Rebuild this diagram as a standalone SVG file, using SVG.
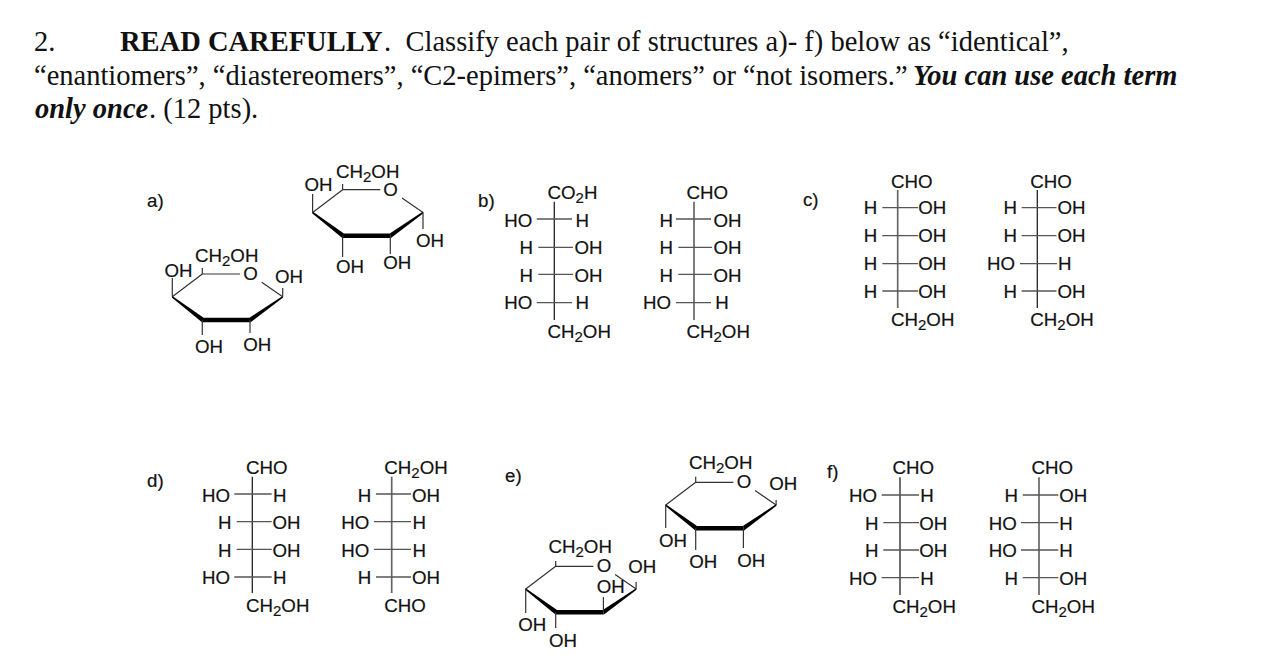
<svg xmlns="http://www.w3.org/2000/svg" width="1288" height="664" viewBox="0 0 1288 664">
<defs><style>
.h{font-family:"Liberation Serif","Times New Roman",serif;font-size:28.500px;fill:#111}
.bi{font-weight:bold;font-style:italic}
.t{font-family:"Liberation Sans",Arial,sans-serif;font-size:18.700px;fill:#111;stroke:#111;stroke-width:.2}
.e{text-anchor:end}
.s{font-size:15px}
.b{stroke:#333;stroke-width:1.200;fill:none}
.r{stroke:#555;stroke-width:1.300;fill:none}
.v{stroke:#222;stroke-width:1.300;fill:none}
.g{stroke:#666;stroke-width:1.700;fill:none}
.k{stroke:#000;stroke-width:4.500;fill:none}
.w{fill:#000;stroke:none}
</style>
<g id="ring"><path class="b" d="M0 0L30 -22.700M30 -22.700H67.700M89.400 -14.400L110.400 0"/><path class="w" d="M0 -0.800L31 20.800L30 25.800L-0.500 0.800Z"/><path class="k" d="M30 23.300H77.700"/><path class="w" d="M110.400 -0.800L77.500 20.800L78 25.800L110.800 0.800Z"/></g>
</defs>
<rect width="1288" height="664" fill="#fff"/>
<g id="question">
<text class="h" x="34" y="51">2.</text>
<text class="h" x="120" y="51" font-weight="bold">READ CAREFULLY</text><text class="h" x="384" y="51">.</text>
<text class="h" x="405.500" y="51">Classify each pair of structures a)- f) below as “identical”,</text>
<text class="h" x="34" y="85">“enantiomers”, “diastereomers”, “C2-epimers”, “anomers” or “not isomers.”</text>
<text class="h bi" x="913" y="85">You can use each term</text>
<text class="h bi" x="35" y="118">only once</text><text class="h" x="149" y="118">. (12 pts).</text>
</g>
<g id="labels">
<text class="t" x="147" y="207">a)</text><text class="t" x="478" y="207">b)</text><text class="t" x="803" y="206">c)</text>
<text class="t" x="147" y="487">d)</text><text class="t" x="505" y="482">e)</text><text class="t" x="827" y="478">f)</text>
</g>
<g id="connectors">
<use href="#ring" x="172.300" y="296.700"/>
<use href="#ring" x="312.600" y="212.400"/>
<use href="#ring" x="665.700" y="505"/>
<use href="#ring" x="525.700" y="589"/>
<path class="b" d="M172.300 296.700V278M202.300 274V268M202.300 320V335M250 320V333M282.700 296.700V288"/>
<path class="b" d="M312.600 212.400V194M342.600 189.700V184M342.600 235.700V257M390.300 235.700V254M423 212.400V229"/>
<path class="b" d="M665.700 505V528M695.700 482.300V476.700M695.700 528.300V550M743.400 528.300V548M776.100 505V500"/>
<path class="b" d="M525.700 589V613M555.700 566.300V561M555.700 612.300V628M603.400 612.300V597M636.100 589V582"/>
<path class="v" d="M554.300 201.700V320"/><path class="r" d="M536.700 219H572M538.300 247.300H573M538.300 274.300H573M536.700 302.700H572"/>
<path class="g" d="M694 201.700V320"/><path class="r" d="M676 219H711M678.300 247.300H712M678.300 274.300H712M676 302.700H711"/>
<path class="g" d="M897.700 190V308"/><path class="r" d="M882.300 207.700H918M882.300 235.700H918M882.300 263.700H918M882.300 291H918"/>
<path class="v" d="M1037.300 190V308"/><path class="r" d="M1021.700 207.700H1056.500M1021.700 235.700H1056.500M1020 263.700H1057M1021.700 291H1056.500"/>
<path class="v" d="M252.300 476.700V593"/><path class="r" d="M234.300 494H271.700M236.700 521.700H271.700M236.700 549.300H271.700M234.300 577H271.700"/>
<path class="g" d="M391.700 476.700V593"/><path class="r" d="M376 494H411M374 521.700H411M374 549.300H411M376 577H411"/>
<path class="v" d="M900 477.300V595"/><path class="r" d="M881.700 495H919M883.300 522.700H919M883.300 550H919M881.700 577.700H919"/>
<path class="g" d="M1039 477.300V595"/><path class="r" d="M1022.700 495H1058.300M1021 522.700H1058.300M1021 550H1058.300M1022.700 577.700H1058.300"/>
</g>
<g id="a-lower">
<text class="t" x="164.500" y="276.700">OH</text><text class="t" x="195" y="261.700">CH<tspan class="s" dy="4">2</tspan><tspan dy="-4">OH</tspan></text><text class="t" x="243.300" y="280">O</text><text class="t" x="275" y="282.700">OH</text><text class="t" x="195" y="353.300">OH</text><text class="t" x="243.300" y="351">OH</text>
</g>
<g id="a-upper">
<text class="t" x="304.500" y="190.700">OH</text><text class="t" x="336" y="178.300">CH<tspan class="s" dy="4">2</tspan><tspan dy="-4">OH</tspan></text><text class="t" x="383.300" y="196">O</text><text class="t" x="416" y="246.700">OH</text><text class="t" x="336" y="273.300">OH</text><text class="t" x="383.300" y="269.300">OH</text>
</g>
<g id="e-upper">
<text class="t" x="689" y="469">CH<tspan class="s" dy="4">2</tspan><tspan dy="-4">OH</tspan></text><text class="t" x="736.700" y="488.300">O</text><text class="t" x="769.300" y="490">OH</text><text class="t" x="659" y="546.700">OH</text><text class="t" x="689.300" y="568.300">OH</text><text class="t" x="737.300" y="566.700">OH</text>
</g>
<g id="e-lower">
<text class="t" x="548.500" y="553.300">CH<tspan class="s" dy="4">2</tspan><tspan dy="-4">OH</tspan></text><text class="t" x="596.700" y="571.700">O</text><text class="t" x="628.300" y="573.300">OH</text><text class="t" x="596.700" y="593.300">OH</text><text class="t" x="518.300" y="630.700">OH</text><text class="t" x="549" y="646.700">OH</text>
</g>
<g id="b-left">
<text class="t" x="547.500" y="199.300">CO<tspan class="s" dy="4">2</tspan><tspan dy="-4">H</tspan></text>
<text class="t e" x="532.300" y="226.700">HO</text><text class="t" x="575.500" y="226.700">H</text>
<text class="t e" x="533" y="254">H</text><text class="t" x="574.500" y="254">OH</text>
<text class="t e" x="533" y="281.700">H</text><text class="t" x="574.500" y="281.700">OH</text>
<text class="t e" x="532.300" y="309.300">HO</text><text class="t" x="575.500" y="309.300">H</text>
<text class="t" x="547.500" y="337.700">CH<tspan class="s" dy="4">2</tspan><tspan dy="-4">OH</tspan></text>
</g>
<g id="b-right">
<text class="t" x="686.500" y="199.300">CHO</text>
<text class="t e" x="673" y="226.700">H</text><text class="t" x="713.500" y="226.700">OH</text>
<text class="t e" x="673" y="254">H</text><text class="t" x="713.500" y="254">OH</text>
<text class="t e" x="673" y="281.700">H</text><text class="t" x="713.500" y="281.700">OH</text>
<text class="t e" x="671" y="309.300">HO</text><text class="t" x="715.300" y="309.300">H</text>
<text class="t" x="686.500" y="337.700">CH<tspan class="s" dy="4">2</tspan><tspan dy="-4">OH</tspan></text>
</g>
<g id="c-left">
<text class="t" x="891" y="187.500">CHO</text>
<text class="t e" x="877.300" y="214.300">H</text><text class="t" x="918.300" y="214.300">OH</text>
<text class="t e" x="877.300" y="242.300">H</text><text class="t" x="918.300" y="242.300">OH</text>
<text class="t e" x="877.300" y="270.300">H</text><text class="t" x="918.300" y="270.300">OH</text>
<text class="t e" x="877.300" y="298">H</text><text class="t" x="918.300" y="298">OH</text>
<text class="t" x="891" y="325.500">CH<tspan class="s" dy="4">2</tspan><tspan dy="-4">OH</tspan></text>
</g>
<g id="c-right">
<text class="t" x="1030.300" y="187.500">CHO</text>
<text class="t e" x="1017" y="214.300">H</text><text class="t" x="1057.500" y="214.300">OH</text>
<text class="t e" x="1017" y="242.300">H</text><text class="t" x="1057.500" y="242.300">OH</text>
<text class="t e" x="1015" y="270.300">HO</text><text class="t" x="1058" y="270.300">H</text>
<text class="t e" x="1017" y="298">H</text><text class="t" x="1057.500" y="298">OH</text>
<text class="t" x="1030.300" y="325.500">CH<tspan class="s" dy="4">2</tspan><tspan dy="-4">OH</tspan></text>
</g>
<g id="d-left">
<text class="t" x="246" y="473.500">CHO</text>
<text class="t e" x="230" y="501.700">HO</text><text class="t" x="273" y="501.700">H</text>
<text class="t e" x="231.500" y="529">H</text><text class="t" x="272.500" y="529">OH</text>
<text class="t e" x="231.500" y="556.700">H</text><text class="t" x="272.500" y="556.700">OH</text>
<text class="t e" x="230" y="584.300">HO</text><text class="t" x="273" y="584.300">H</text>
<text class="t" x="246" y="611.700">CH<tspan class="s" dy="4">2</tspan><tspan dy="-4">OH</tspan></text>
</g>
<g id="d-right">
<text class="t" x="384.300" y="473.500">CH<tspan class="s" dy="4">2</tspan><tspan dy="-4">OH</tspan></text>
<text class="t e" x="371.300" y="501.700">H</text><text class="t" x="412" y="501.700">OH</text>
<text class="t e" x="369.300" y="529">HO</text><text class="t" x="412.600" y="529">H</text>
<text class="t e" x="369.300" y="556.700">HO</text><text class="t" x="412.600" y="556.700">H</text>
<text class="t e" x="371.300" y="584.300">H</text><text class="t" x="412" y="584.300">OH</text>
<text class="t" x="384.300" y="611.700">CHO</text>
</g>
<g id="f-left">
<text class="t" x="892.500" y="473.500">CHO</text>
<text class="t e" x="877" y="502.300">HO</text><text class="t" x="920.300" y="502.300">H</text>
<text class="t e" x="878.500" y="530">H</text><text class="t" x="919.300" y="530">OH</text>
<text class="t e" x="878.500" y="557.300">H</text><text class="t" x="919.300" y="557.300">OH</text>
<text class="t e" x="877" y="585">HO</text><text class="t" x="920.300" y="585">H</text>
<text class="t" x="892.500" y="613.300">CH<tspan class="s" dy="4">2</tspan><tspan dy="-4">OH</tspan></text>
</g>
<g id="f-right">
<text class="t" x="1031.500" y="473.500">CHO</text>
<text class="t e" x="1018" y="502.300">H</text><text class="t" x="1059.300" y="502.300">OH</text>
<text class="t e" x="1016.700" y="530">HO</text><text class="t" x="1059.300" y="530">H</text>
<text class="t e" x="1016.700" y="557.300">HO</text><text class="t" x="1059.300" y="557.300">H</text>
<text class="t e" x="1018" y="585">H</text><text class="t" x="1059.300" y="585">OH</text>
<text class="t" x="1031.500" y="613.300">CH<tspan class="s" dy="4">2</tspan><tspan dy="-4">OH</tspan></text>
</g>
</svg>
